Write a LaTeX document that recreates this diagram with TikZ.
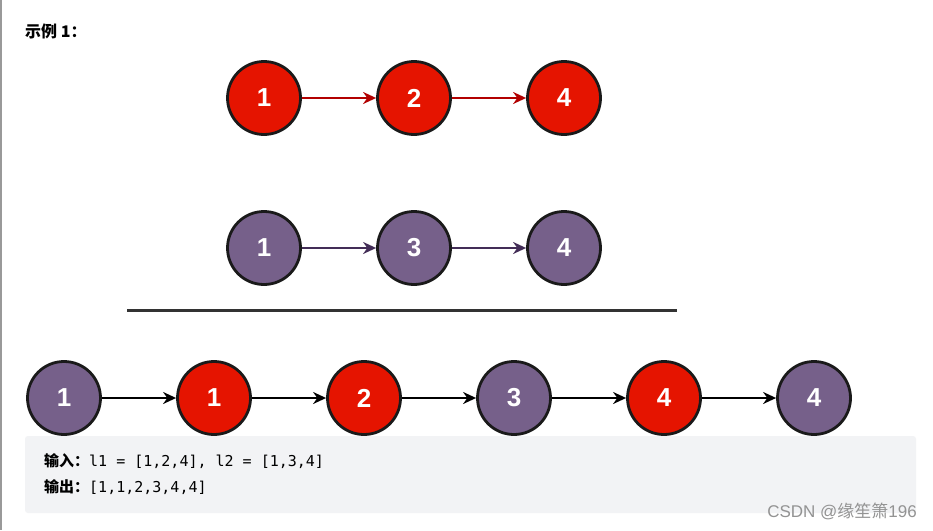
\documentclass[tikz,border=0pt]{standalone}
\usepackage{fontspec}
\setmainfont{Liberation Sans}
\setmonofont{DejaVu Sans Mono}
\newfontfamily\cjk{Noto Sans CJK SC}
\usetikzlibrary{arrows.meta}
\definecolor{dred}{HTML}{E51400}
\definecolor{dpurple}{HTML}{76608A}
\definecolor{ared}{HTML}{B20000}
\definecolor{apurple}{HTML}{432D57}
\definecolor{boxgray}{HTML}{F2F3F5}
\definecolor{edge}{HTML}{1A1A1A}
\tikzset{
  rednode/.style={circle, draw=edge, line width=2.8pt, fill=dred, minimum size=73pt, inner sep=0pt, text=white, font=\fontsize{26}{26}\selectfont\bfseries},
  purplenode/.style={rednode, fill=dpurple},
  link/.style={line width=2pt, -{Stealth[length=13pt,width=12pt]}},
}
\begin{document}
\begin{tikzpicture}[x=1pt,y=-1pt]
\useasboundingbox (0,0) rectangle (933,530);
\fill[white] (0,0) rectangle (933,530);
\draw[gray!80, line width=1.5pt] (1,0) -- (1,530);
\node[anchor=west, inner sep=0pt, font=\cjk\bfseries\fontsize{16}{16}\selectfont] (title) at (25,31) {示例 1：};
% row 1
\node[rednode] (a1) at (264,98) {1};
\node[rednode] (a2) at (414,98) {2};
\node[rednode] (a3) at (564,98) {4};
\draw[link, ared] (a1) -- (a2);
\draw[link, ared] (a2) -- (a3);
% row 2
\node[purplenode] (b1) at (264,248) {1};
\node[purplenode] (b2) at (414,248) {3};
\node[purplenode] (b3) at (564,248) {4};
\draw[link, apurple] (b1) -- (b2);
\draw[link, apurple] (b2) -- (b3);
% separator
\coordinate (s1) at (127,310);
\coordinate (s2) at (677,310);
\draw[line width=3pt, black!80] (s1) -- (s2);
% row 3
\node[purplenode] (c1) at (64,398) {1};
\node[rednode] (c2) at (214,398) {1};
\node[rednode] (c3) at (364,398) {2};
\node[purplenode] (c4) at (514,398) {3};
\node[rednode] (c5) at (664,398) {4};
\node[purplenode] (c6) at (814,398) {4};
\foreach \p/\q in {c1/c2,c2/c3,c3/c4,c4/c5,c5/c6}
  \draw[link, black] (\p) -- (\q);
% box
\fill[boxgray, rounded corners=3pt] (25,436) rectangle (916,513);
\node[anchor=west, inner sep=0pt] (in) at (44,461) {{\cjk\bfseries\fontsize{15}{15}\selectfont 输入：}{\ttfamily\fontsize{15}{15}\selectfont l1 = [1,2,4], l2 = [1,3,4]}};
\node[anchor=west, inner sep=0pt] (out) at (44,487) {{\cjk\bfseries\fontsize{15}{15}\selectfont 输出：}{\ttfamily\fontsize{15}{15}\selectfont [1,1,2,3,4,4]}};
% watermark
\node[anchor=east, inner sep=0pt, text=gray!85, font=\fontsize{17}{17}\selectfont] (wm) at (917,511) {CSDN @{\cjk 缘笙箫}196};
\end{tikzpicture}
\end{document}
